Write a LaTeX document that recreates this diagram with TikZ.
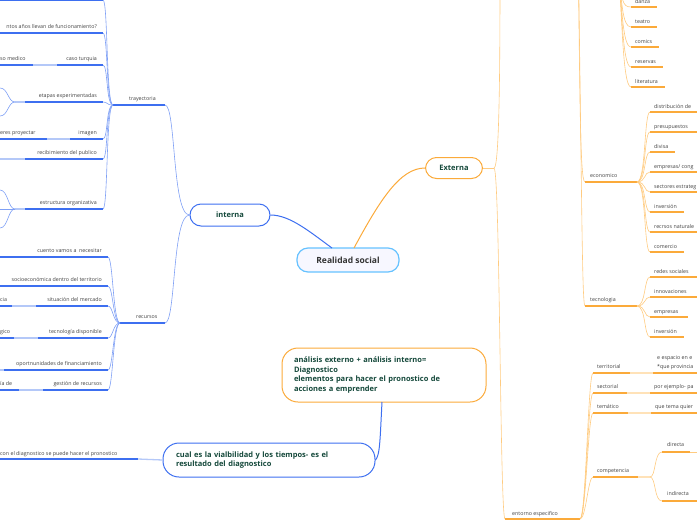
\documentclass[tikz,border=0pt]{standalone}
\usepackage{fontspec}
\setmainfont{Open Sans}
\definecolor{bdark}{HTML}{3D6FF0}
\definecolor{blight}{HTML}{B4C8F8}
\definecolor{bcurve}{HTML}{7FA0F5}
\definecolor{odark}{HTML}{FBAA3A}
\definecolor{olight}{HTML}{FFE2B8}
\definecolor{ocurve}{HTML}{FFCB80}
\definecolor{tgray}{HTML}{404040}
\definecolor{tgreen}{HTML}{14483A}
\begin{document}
\begin{tikzpicture}[x=1pt,y=-1pt,
 bl/.style={draw=bdark,line width=1.3pt},
 bll/.style={draw=blight,line width=1.3pt},
 bc/.style={draw=bcurve,line width=0.6pt},
 ol/.style={draw=odark,line width=1.3pt},
 oll/.style={draw=olight,line width=1.3pt},
 oc/.style={draw=ocurve,line width=0.6pt},
 lbl/.style={font=\fontsize{5.3}{6.5}\selectfont,text=tgray,inner sep=0pt},
 mainnode/.style={rounded corners=11pt,line width=1pt,font=\fontsize{7.5}{9.5}\selectfont\bfseries,text=tgreen,align=left}]
\useasboundingbox (0,0) rectangle (697,520);
\clip (0,0) rectangle (697,520);
% ---------- main nodes
\node[mainnode,draw=bdark,minimum width=80pt,minimum height=22pt,align=center] (interna) at (230,215) {interna};
\node[mainnode,draw=blue!40!cyan!60!white,fill=blue!3,line width=1.2pt,minimum width=102pt,minimum height=24pt,align=center,font=\fontsize{8.5}{10}\selectfont\bfseries,text=black!80] (real) at (348,260) {Realidad social};
\node[mainnode,draw=odark,minimum width=57pt,minimum height=21pt,align=center] (ext) at (454,168) {Externa};
\node[mainnode,draw=odark,minimum width=204pt,minimum height=54pt,text width=180pt,rounded corners=16pt] (ana) at (384,375) {análisis externo + análisis interno=\\Diagnostico\\*elementos para hacer el pronostico de\\acciones a emprender};
\node[mainnode,draw=bdark,minimum width=212pt,minimum height=34pt,text width=186pt,rounded corners=16pt] (cual) at (269,460) {cual es la vialbilidad y los tiempos- es el\\resultado del diagnostico};
\draw[bdark,line width=1pt] (332,248) .. controls (310,232) and (290,215) .. (interna.east);
\draw[odark,line width=1pt] (354,248) .. controls (380,200) and (400,168) .. (ext.west);
\draw[bdark,line width=1pt] (382,402) .. controls (380,440) and (380,455) .. (cual.east);
% cual leaf
\coordinate (cl) at (0,459);
\draw[bll] (cual.west) -- (138,459);
\draw[bl] (138,459) -- (cl);
\node[lbl,anchor=base west] (clt) at (0,455) {con el diagnostico se puede hacer el pronostico};
% ---------- trayectoria
\coordinate (jt) at (113,105);
\coordinate (te) at (165,105);
\draw[bl] (jt) -- (te);
\node[lbl,anchor=base west] (tt) at (129,100) {trayectoria};
\draw[bc] (interna.west) .. controls (172,215) and (176,105) .. (te);
\foreach \y in {0,33,65,102,139,159,209}{\coordinate (tc\y) at (103,\y);
 \draw[bc] (jt) .. controls +(-7,0) and +(5,0) .. (tc\y);}
\draw[bl] (tc0) -- (0,0);
\draw[bl] (tc33) -- (0,33);
\node[lbl,anchor=base east] (t33) at (97,28) {ntos años llevan de funcionamiento?};
\draw[bl] (tc65) -- (57,65); \draw[bll] (57,65) -- (33,65); \draw[bl] (33,65) -- (0,65);
\node[lbl,anchor=base east] (t65) at (97,60) {caso turquia};
\node[lbl,anchor=base west] (t65b) at (0,60) {so medico};
\draw[bl] (tc102) -- (25,102); \draw[bll] (25,102) -- (15,102);
\draw[bc] (15,102) .. controls (8,102) and (8,88) .. (0,88);
\draw[bc] (15,102) .. controls (8,102) and (8,116) .. (0,116);
\node[lbl,anchor=base east] (t102) at (97,97) {etapas experimentadas};
\draw[bl] (tc139) -- (70,139); \draw[bll] (70,139) -- (47,139); \draw[bl] (47,139) -- (0,139);
\node[lbl,anchor=base east] (t139) at (97,134) {imagen};
\node[lbl,anchor=base west] (t139b) at (0,134) {eres proyectar};
\draw[bl] (tc159) -- (25,159); \draw[bll] (25,159) -- (0,159);
\node[lbl,anchor=base east] (t159) at (97,154) {recibimiento del publico};
\draw[bl] (tc209) -- (25,209); \draw[bll] (25,209) -- (15,209);
\draw[bc] (15,209) .. controls (8,209) and (8,190) .. (0,190);
\draw[bc] (15,209) -- (0,209);
\draw[bc] (15,209) .. controls (8,209) and (8,228) .. (0,228);
\node[lbl,anchor=base east] (t209) at (97,204) {estructura organizativa};
% ---------- recursos
\coordinate (jr) at (120,323);
\coordinate (re) at (165,323);
\draw[bl] (jr) -- (re);
\node[lbl,anchor=base west] (rt) at (136,318) {recursos};
\draw[bc] (interna.west) .. controls (172,215) and (176,323) .. (re);
\foreach \y in {257,286,306,338,370,390}{\coordinate (rc\y) at (108,\y);
 \draw[bc] (jr) .. controls +(-7,0) and +(5,0) .. (rc\y);}
\draw[bl] (rc257) -- (25,257); \draw[bl] (25,257) -- (0,257);
\node[lbl,anchor=base east] (r257) at (102,252) {cuento vamos a~ necesitar};
\draw[bl] (rc286) -- (0,286);
\node[lbl,anchor=base east] (r286) at (102,281) {socioeconómica dentro del territorio};
\draw[bl] (rc306) -- (36,306); \draw[bll] (36,306) -- (12,306); \draw[bl] (12,306) -- (0,306);
\node[lbl,anchor=base east] (r306) at (102,301) {situación del mercado};
\node[lbl,anchor=base west] (r306b) at (0,301) {cia};
\draw[bl] (rc338) -- (38,338); \draw[bll] (38,338) -- (14,338); \draw[bl] (14,338) -- (0,338);
\node[lbl,anchor=base east] (r338) at (102,333) {tecnología disponible};
\node[lbl,anchor=base west] (r338b) at (0,333) {gico};
\draw[bl] (rc370) -- (4,370); \draw[bll] (4,370) -- (0,370);
\node[lbl,anchor=base east] (r370) at (102,365) {oportnunidades de financiamiento};
\draw[bl] (rc390) -- (43,390); \draw[bll] (43,390) -- (19,390); \draw[bl] (19,390) -- (0,390);
\node[lbl,anchor=base east] (r390) at (102,385) {gestión de recursos};
\node[lbl,anchor=base west] (r390b) at (0,385) {ía de};
% ---------- Externa tree
\coordinate (je) at (494,168);
\coordinate (top) at (500,-40);
\coordinate (ee) at (505,519);
\coordinate (eee) at (580,519);
\draw[oc] (ext.east) -- (je);
\draw[oc] (je) .. controls (500,168) and (500,40) .. (top);
\draw[oc] (je) .. controls (500,168) and (500,519) .. (ee);
\draw[ol] (ee) -- (eee);
\node[lbl,anchor=base west] (eet) at (512,515) {entorno especifico};
% general (off top)
\coordinate (jg) at (578,-60);
\coordinate (eco) at (585,182); \coordinate (ecoj) at (637,182);
\coordinate (tec) at (585,306); \coordinate (tecj) at (637,306);
\draw[oc] (jg) .. controls (580,100) and (580,182) .. (eco);
\draw[oc] (jg) .. controls (582,200) and (582,306) .. (tec);
\draw[ol] (eco) -- (ecoj); \draw[ol] (tec) -- (tecj);
\node[lbl,anchor=base west] (ecot) at (590,177) {economico};
\node[lbl,anchor=base west] (tect) at (590,301) {tecnologia};
% culture list
\coordinate (jc) at (618,-30);
\foreach \y/\t/\w in {7/danza/657,27/teatro/657,47/comics/659,67/reservas/663,87/literatura/665}{
 \coordinate (cc\y) at (631,\y);
 \draw[oc] (jc) .. controls (622,0) and (622,\y) .. (cc\y);
 \draw[ol] (cc\y) -- (\w,\y);
 \node[lbl,anchor=base west] at (635,\y-4) {\t};}
% economico children
\foreach \y/\t/\w in {112/{distribución de}/700,132/presupuestos/700,152/divisa/675,172/{empresas/ cong}/700,192/{sectores estrateg}/700,212/inversión/684,232/{recrsos naturale}/700,252/comercio/684}{
 \coordinate (ec\y) at (650,\y);
 \draw[oc] (ecoj) .. controls (646,182) and (644,\y) .. (ec\y);
 \draw[ol] (ec\y) -- (\w,\y);
 \node[lbl,anchor=base west] at (654,\y-4) {\t};}
% tecnologia children
\foreach \y/\t/\w in {277/{redes sociales}/700,297/innovaciones/700,317/empresas/688,337/inversión/684}{
 \coordinate (tc\y) at (650,\y);
 \draw[oc] (tecj) .. controls (646,306) and (644,\y) .. (tc\y);
 \draw[ol] (tc\y) -- (\w,\y);
 \node[lbl,anchor=base west] at (654,\y-4) {\t};}
% entorno especifico children
\foreach \y in {373,393,413,477}{\coordinate (es\y) at (593,\y);
 \draw[oc] (eee) .. controls (586,519) and (588,\y) .. (es\y);}
\draw[ol] (es373) -- (630,373); \draw[oll] (630,373) -- (653,373); \draw[ol] (653,373) -- (700,373);
\node[lbl,anchor=base west] (terr) at (597,368) {territorial};
\node[lbl,anchor=base west] (terr1) at (657,359) {e espacio en e};
\node[lbl,anchor=base west] (terr2) at (657,368) {*que provincia};
\draw[ol] (es393) -- (627,393); \draw[oll] (627,393) -- (650,393); \draw[ol] (650,393) -- (700,393);
\node[lbl,anchor=base west] (sect) at (597,388) {sectorial};
\node[lbl,anchor=base west] (sect1) at (654,388) {por ejemplo- pa};
\draw[ol] (es413) -- (628,413); \draw[oll] (628,413) -- (651,413); \draw[ol] (651,413) -- (700,413);
\node[lbl,anchor=base west] (tema) at (597,408) {temático};
\node[lbl,anchor=base west] (tema1) at (655,408) {que tema quier};
\coordinate (cj) at (650,477);
\draw[ol] (es477) -- (638,477); \draw[oll] (638,477) -- (cj);
\node[lbl,anchor=base west] (comp) at (597,472) {competencia};
\coordinate (dir) at (662,452); \coordinate (ind) at (662,501);
\draw[oc] (cj) .. controls (656,477) and (654,452) .. (dir);
\draw[oc] (cj) .. controls (656,477) and (654,501) .. (ind);
\draw[ol] (dir) -- (690,452); \draw[oc] (690,452) -- (700,452);
\draw[ol] (ind) -- (700,501);
\node[lbl,anchor=base west] (dirt) at (667,446) {directa};
\node[lbl,anchor=base west] (indt) at (667,495) {indirecta};
\end{tikzpicture}
\end{document}
